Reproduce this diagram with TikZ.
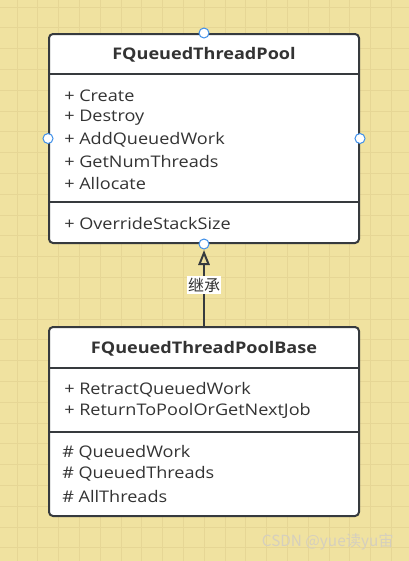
\documentclass[tikz,border=0pt]{standalone}
\usepackage{fontspec}
\setmainfont{Open Sans}[FakeStretch=1.13]
\newfontfamily\cjk{Noto Sans CJK SC}
\usetikzlibrary{arrows.meta}
\definecolor{bgc}{HTML}{F0E2A0}
\definecolor{gridc}{HTML}{E6D695}
\definecolor{edgec}{HTML}{363A3E}
\definecolor{txtc}{HTML}{333333}
\definecolor{portc}{HTML}{3F8FE8}
\definecolor{wmc}{HTML}{D5CFBE}
\tikzset{
  umlbox/.style={draw=edgec, line width=1.5pt, fill=white, rounded corners=3pt, inner sep=0pt},
  sepline/.style={draw=edgec, line width=1.5pt},
  member/.style={anchor=west, inner sep=0pt, text=txtc, font=\fontsize{12}{14}\selectfont},
  title/.style={inner sep=0pt, text=txtc, font=\fontsize{12}{14}\selectfont\bfseries},
  port/.style={circle, draw=portc, fill=white, line width=0.75pt, minimum size=7.5pt, inner sep=0pt},
  conn/.style={draw=edgec, line width=1.5pt},
  lbl/.style={fill=white, inner sep=1pt, text=txtc, font=\cjk\fontsize{12}{13}\selectfont},
  wm/.style={inner sep=0pt, text=wmc, font=\cjk\fontsize{11.5}{13}\selectfont}
}
\begin{document}
\begin{tikzpicture}[x=0.75pt, y=-0.75pt]
\fill[bgc] (0,0) rectangle (409,561);
\useasboundingbox (0,0) rectangle (409,561);
\foreach \i in {0,...,20} {
  \draw[gridc, line width=0.75pt] ({17+20.8*\i},0) -- ({17+20.8*\i},561);
}
\foreach \i in {0,...,27} {
  \draw[gridc, line width=0.75pt] (0,{7+20.8*\i}) -- (409,{7+20.8*\i});
}
% box 1
\node[umlbox, minimum width=232.5pt, minimum height=156.75pt] (pool) at (204,138.5) {};
\draw[sepline] (pool.west |- 0,74) -- (pool.east |- 0,74);
\draw[sepline] (pool.west |- 0,202) -- (pool.east |- 0,202);
\node[title] (t1) at (204,55) {FQueuedThreadPool};
\node[member] (m1) at (64,96) {+ Create};
\node[member] (m2) at (64,118) {+ Destroy};
\node[member] (m3) at (64,139.5) {+ AddQueuedWork};
\node[member] (m4) at (64,161) {+ GetNumThreads};
\node[member] (m5) at (64,183) {+ Allocate};
\node[member] (m6) at (64,223.5) {+ OverrideStackSize};
% box 2
\node[umlbox, minimum width=232.5pt, minimum height=141.75pt] (base) at (204,421.5) {};
\draw[sepline] (base.west |- 0,368) -- (base.east |- 0,368);
\draw[sepline] (base.west |- 0,432) -- (base.east |- 0,432);
\node[title] (t2) at (204,349) {FQueuedThreadPoolBase};
\node[member] (n1) at (64,389.5) {+ RetractQueuedWork};
\node[member] (n2) at (64,411) {+ ReturnToPoolOrGetNextJob};
\node[member] (n3) at (62,452.5) {\# QueuedWork};
\node[member] (n4) at (62,474) {\# QueuedThreads};
\node[member] (n5) at (62,496) {\# AllThreads};
% connector
\draw[conn, -{Triangle[open, length=11.25pt, width=8.5pt, line width=1.5pt]}, shorten >=4.5pt] (base.north) -- (pool.south);
\node[lbl] (inh) at (204,285) {继承};
% ports
\node[port] (p1) at (pool.north) {};
\node[port] (p2) at (pool.west) {};
\node[port] (p3) at (pool.east) {};
\node[port] (p4) at (pool.south) {};
% watermark
\node[wm, anchor=east] (wmk) at (394,542) {CSDN @yue读yu宙};
\end{tikzpicture}
\end{document}
